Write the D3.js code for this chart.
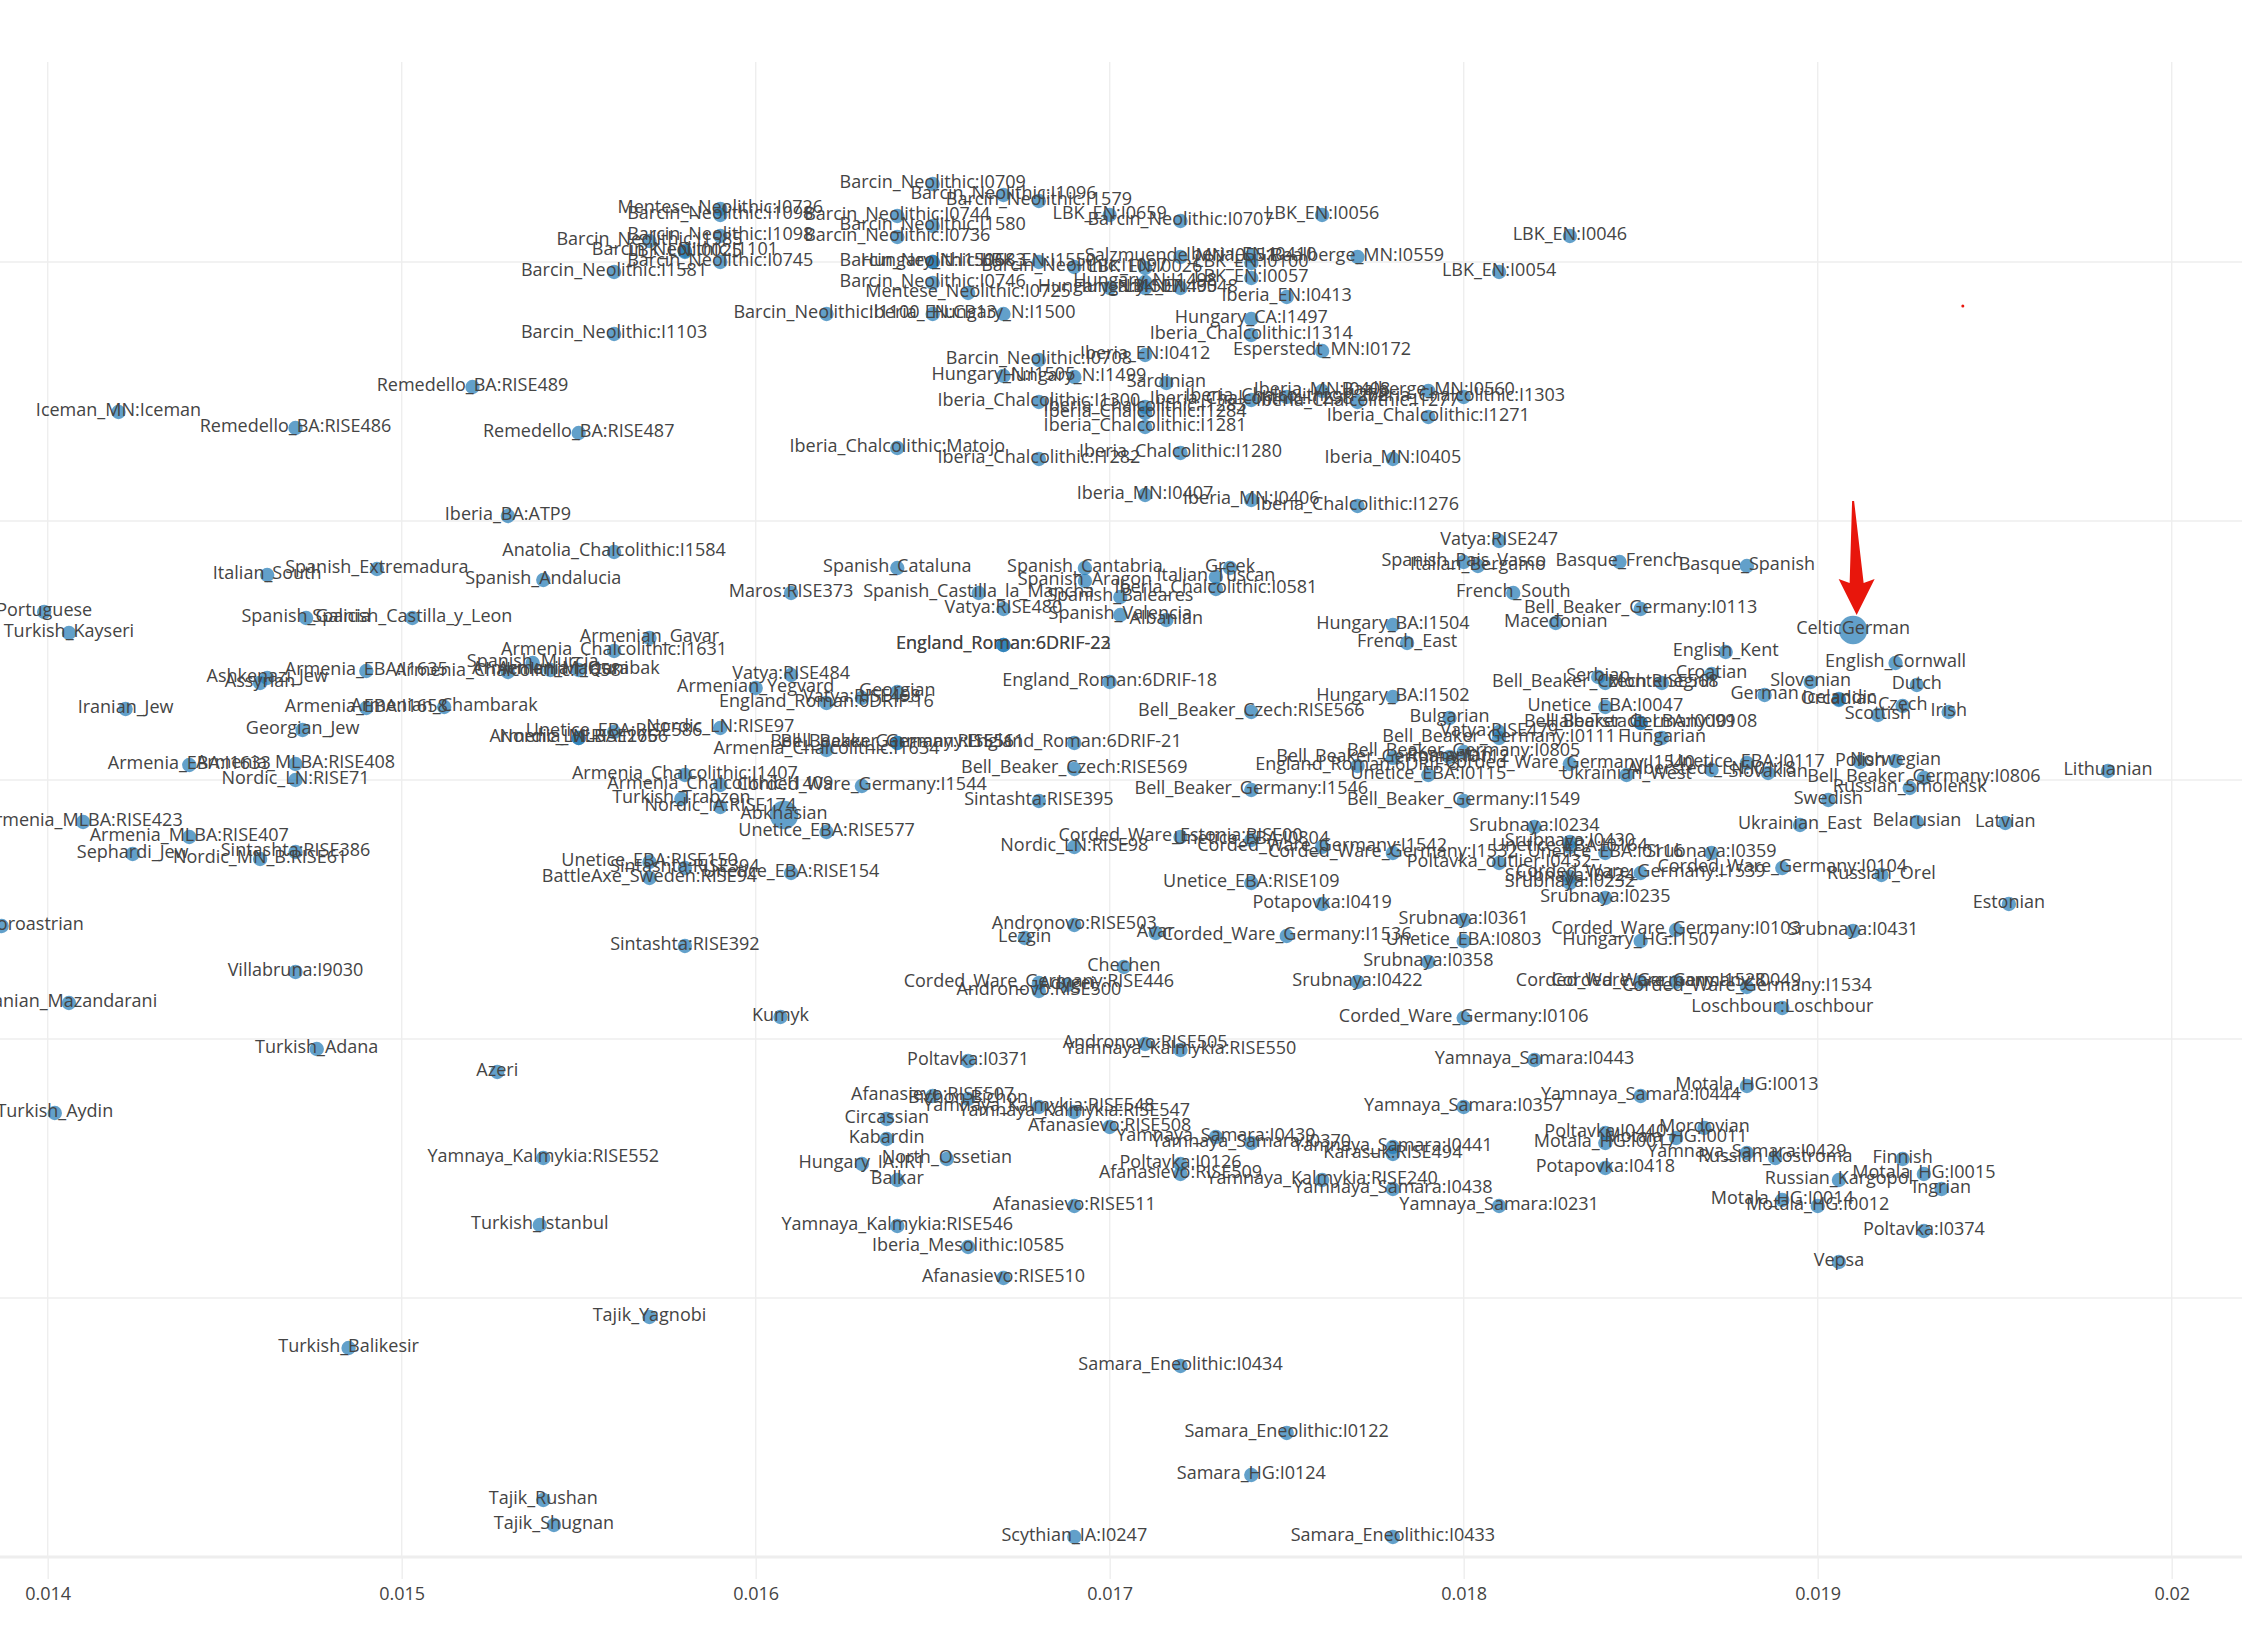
<!DOCTYPE html>
<html>
<head>
<meta charset="utf-8">
<script src="https://cdn.jsdelivr.net/npm/d3@7"></script>
<style>
  html, body { margin: 0; padding: 0; background: #fff; }
  svg { display: block; }
  text { font-family: "Open Sans", sans-serif; fill: #444; }
</style>
</head>
<body>
<div id="chart"></div>
<script>
// labels, xValues and yValues run in parallel, ten samples per line
var labels = [
  "Iceman_MN:Iceman","Remedello_BA:RISE486","Remedello_BA:RISE489","Remedello_BA:RISE487","Barcin_Neolithic:I1581","Barcin_Neolithic:I1103","Iberia_BA:ATP9","Anatolia_Chalcolithic:I1584","Italian_South","Spanish_Extremadura",
  "Spanish_Andalucia","Portuguese","Turkish_Kayseri","Spanish_Galicia","Spanish_Castilla_y_Leon","Mentese_Neolithic:I0726","Barcin_Neolithic:I1098","Barcin_Neolithic:I1098","Barcin_Neolithic:I1585","Barcin_Neolithic:I1101",
  "LBK_EN:I0025","Barcin_Neolithic:I0745","Barcin_Neolithic:I0709","Barcin_Neolithic:I1096","Barcin_Neolithic:I1579","Barcin_Neolithic:I0744","Barcin_Neolithic:I1580","Barcin_Neolithic:I0736","LBK_EN:I0659","Barcin_Neolithic:I0707",
  "LBK_EN:I0056","Barcin_Neolithic:I1583","Hungary_N:I1506","LBK_EN:I1550","Barcin_Neolithic:I1097","LBK_EN:I0026","Salzmuende_MN:I0551","Iberia_EN:I0410","LBK_EN:I0100","Baalberge_MN:I0559",
  "LBK_EN:I0057","Iberia_EN:I0413","Hungary_CA:I1497","Iberia_Chalcolithic:I1314","Esperstedt_MN:I0172","Iberia_EN:I0412","Barcin_Neolithic:I0708","Hungary_N:I1505","Hungary_N:I1499","Sardinian",
  "Iberia_Chalcolithic:I1300","Iberia_Chalcolithic:I1283","Iberia_Chalcolithic:I1284","Iberia_Chalcolithic:I1281","Iberia_Chalcolithic:Matojo","Iberia_Chalcolithic:I1282","Iberia_Chalcolithic:I1280","Iberia_MN:I0405","Iberia_MN:I0407","Iberia_MN:I0406",
  "Iberia_Chalcolithic:I1276","Iberia_Chalcolithic:I1298","Iberia_MN:I0408","Baalberge_MN:I0560","Iberia_Chalcolithic:I1303","Iberia_Chalcolithic:I1277","Iberia_Chalcolithic:I1272","Iberia_Chalcolithic:I1271","Hungary_N:I1498","Hungary_N:I1507",
  "LBK_EN:I0048","Hungary_N:I1495","Barcin_Neolithic:I0746","Mentese_Neolithic:I0725","Barcin_Neolithic:I1100","Iberia_EN:CB13","Hungary_N:I1500","LBK_EN:I0046","LBK_EN:I0054","Vatya:RISE247",
  "Basque_French","Basque_Spanish","French_South","Bell_Beaker_Germany:I0113","Macedonian","CelticGerman","English_Cornwall","Dutch","Slovenian","Icelandic",
  "Orcadian","Czech","Scottish","Irish","Polish","Norwegian","Bell_Beaker_Germany:I0806","Russian_Smolensk","Lithuanian","Swedish",
  "Ukrainian_East","Belarusian","Latvian","Corded_Ware_Germany:I0104","Russian_Orel","Slovakian","Unetice_EBA:I0117","Estonian","Hungary_BA:I1504","French_East",
  "English_Kent","Serbian","Bell_Beaker_Czech:RISE568","Montenegrin","Croatian","German","Hungary_BA:I1502","Bulgarian","Unetice_EBA:I0047","Bell_Beaker_Germany:I0108",
  "Halberstadt_LBA:I0099","Hungarian","Vatya:RISE479","Bell_Beaker_Germany:I0111","Bell_Beaker_Germany:I0805","Bell_Beaker_Germany:I0112","Romanian","England_Roman:6DRIF-3","Corded_Ware_Germany:I1540","Unetice_EBA:I0115",
  "Ukrainian_West","Alberstedt_LN:I0118","Bell_Beaker_Germany:I1549","Bell_Beaker_Germany:I1546","Srubnaya:I0234","Srubnaya:I0430","Unetice_EBA:I0164","Unetice_EBA:I0116","Srubnaya:I0359","Corded_Ware_Germany:I1532",
  "Corded_Ware_Germany:I1539","Poltavka_outlier:I0432","Srubnaya:I0424","Srubnaya:I0232","Srubnaya:I0235","Spanish_Cataluna","Spanish_Cantabria","Spanish_Aragon","Italian_Tuscan","Greek",
  "Iberia_Chalcolithic:I0581","Maros:RISE373","Spanish_Castilla_la_Mancha","Spanish_Baleares","Vatya:RISE480","Spanish_Valencia","Albanian","Spanish_Pais_Vasco","Italian_Bergamo","England_Roman:6DRIF-22",
  "England_Roman:6DRIF-23","England_Roman:6DRIF-18","Vatya:RISE484","Armenian_Yegvard","Georgian","Vatya:RISE498","England_Roman:6DRIF-16","Bell_Beaker_Czech:RISE566","England_Roman:6DRIF-21","Bell_Beaker_Germany:RISE561",
  "Bell_Beaker_Germany:I1551","Armenia_Chalcolithic:I1634","Bell_Beaker_Czech:RISE569","Corded_Ware_Germany:I1544","Sintashta:RISE395","Abkhasian","Unetice_EBA:RISE577","Unetice_EBA:RISE154","Corded_Ware_Estonia:RISE00","Nordic_LN:RISE98",
  "Unetice_EBA:I0804","Corded_Ware_Germany:I1542","Unetice_EBA:RISE109","Potapovka:I0419","Andronovo:RISE503","Lezgin","Avar","Corded_Ware_Germany:I1536","Srubnaya:I0361","Unetice_EBA:I0803",
  "Srubnaya:I0358","Chechen","Srubnaya:I0422","Corded_Ware_Germany:RISE446","Andronovo:RISE500","Adygei","Corded_Ware_Germany:I0103","Hungary_HG:I1507","Srubnaya:I0431","Corded_Ware_Germany:I1528",
  "Corded_Ware_Germany:I0049","Corded_Ware_Germany:I1534","Loschbour:Loschbour","Corded_Ware_Germany:I0106","Armenian_Gavar","Armenia_Chalcolithic:I1631","Ashkenazi_Jew","Assyrian","Armenia_EBA:I1635","Armenia_Chalcolithic:I1658",
  "Spanish_Murcia","Armenian_Martuni","Armenian_Qarabak","Iranian_Jew","Armenia_EBA:I1658","Armenian_Chambarak","Georgian_Jew","Armenia_EBA:I1633","Armenia_MLBA:RISE408","Nordic_LN:RISE71",
  "Armenia_MLBA:RISE423","Armenia_MLBA:RISE407","Sephardi_Jew","Sintashta:RISE386","Nordic_MN_B:RISE61","Iranian_Zoroastrian","Iranian_Mazandarani","Villabruna:I9030","Turkish_Adana","Nordic_LN:RISE97",
  "Unetice_EBA:RISE586","Armenia_MLBA:I1656","Nordic_LN:RISE276","Armenia_Chalcolithic:I1407","Armenia_Chalcolithic:I1409","Turkish_Trabzon","Nordic_IA:RISE174","Unetice_EBA:RISE150","Sintashta:RISE394","BattleAxe_Sweden:RISE94",
  "Sintashta:RISE392","Azeri","Turkish_Aydin","Yamnaya_Kalmykia:RISE552","Turkish_Istanbul","Tajik_Yagnobi","Turkish_Balikesir","Tajik_Rushan","Tajik_Shugnan","Kumyk",
  "Poltavka:I0371","Andronovo:RISE505","Yamnaya_Kalmykia:RISE550","Afanasievo:RISE507","Bichon:Bichon","Yamnaya_Kalmykia:RISE548","Yamnaya_Kalmykia:RISE547","Circassian","Afanasievo:RISE508","Kabardin",
  "Yamnaya_Samara:I0439","Yamnaya_Samara:I0370","Yamnaya_Samara:I0441","Karasuk:RISE494","Hungary_IA:IR1","North_Ossetian","Balkar","Poltavka:I0126","Afanasievo:RISE509","Yamnaya_Kalmykia:RISE240",
  "Yamnaya_Samara:I0438","Afanasievo:RISE511","Yamnaya_Kalmykia:RISE546","Iberia_Mesolithic:I0585","Afanasievo:RISE510","Samara_Eneolithic:I0434","Samara_Eneolithic:I0122","Samara_HG:I0124","Scythian_IA:I0247","Samara_Eneolithic:I0433",
  "Yamnaya_Samara:I0443","Motala_HG:I0013","Yamnaya_Samara:I0444","Yamnaya_Samara:I0357","Mordovian","Poltavka:I0440","Motala_HG:I0017","Motala_HG:I0011","Yamnaya_Samara:I0429","Russian_Kostroma",
  "Finnish","Potapovka:I0418","Motala_HG:I0015","Russian_Kargopol","Ingrian","Motala_HG:I0014","Motala_HG:I0012","Yamnaya_Samara:I0231","Poltavka:I0374","Vepsa"
];

var xValues = [
  0.0142,0.0147,0.0152,0.0155,0.0156,0.0156,0.0153,0.0156,0.01462,0.01493,
  0.0154,0.01399,0.01406,0.01473,0.01503,0.0159,0.0159,0.0159,0.0157,0.0158,
  0.0158,0.0159,0.0165,0.0167,0.0168,0.0164,0.0165,0.0164,0.017,0.0172,
  0.0176,0.0165,0.0165,0.0168,0.0169,0.0171,0.0172,0.0174,0.0174,0.0177,
  0.0174,0.0175,0.0174,0.0174,0.0176,0.0171,0.0168,0.0167,0.0169,0.01716,
  0.0168,0.0171,0.0171,0.0171,0.0164,0.0168,0.0172,0.0178,0.0171,0.0174,
  0.0177,0.0174,0.0176,0.0179,0.018,0.0177,0.0175,0.0179,0.0171,0.017,
  0.0172,0.0171,0.0165,0.0166,0.0162,0.0165,0.0167,0.0183,0.0181,0.0181,
  0.01844,0.0188,0.01814,0.0185,0.01826,0.0191,0.01922,0.01928,0.01898,0.01906,
  0.01906,0.01924,0.01917,0.01937,0.01912,0.01922,0.0193,0.01926,0.01982,0.01903,
  0.01895,0.01928,0.01953,0.0189,0.01918,0.01886,0.0188,0.01954,0.0178,0.01784,
  0.01874,0.01838,0.0184,0.01856,0.0187,0.01885,0.0178,0.01796,0.0184,0.0185,
  0.0185,0.01856,0.0181,0.0181,0.018,0.0178,0.01796,0.0177,0.0183,0.0179,
  0.01846,0.0187,0.018,0.0174,0.0182,0.0183,0.0183,0.0184,0.0187,0.0178,
  0.0185,0.0181,0.0183,0.0183,0.0184,0.0164,0.01693,0.01693,0.0173,0.01734,
  0.0173,0.0161,0.01663,0.01703,0.0167,0.01703,0.01716,0.018,0.01804,0.0167,
  0.0167,0.017,0.0161,0.016,0.0164,0.0163,0.0162,0.0174,0.0169,0.0164,
  0.0164,0.0162,0.0169,0.0163,0.0168,0.01608,0.0162,0.0161,0.0172,0.0169,
  0.0174,0.0176,0.0174,0.0176,0.0169,0.01676,0.01713,0.0175,0.018,0.018,
  0.0179,0.01704,0.0177,0.0168,0.0168,0.01688,0.0186,0.0185,0.0191,0.0185,
  0.0186,0.0188,0.0189,0.018,0.0157,0.0156,0.01462,0.0146,0.0149,0.0153,
  0.01537,0.01542,0.0155,0.01422,0.0149,0.01512,0.01472,0.0144,0.0147,0.0147,
  0.0141,0.0144,0.01424,0.0147,0.0146,0.01387,0.01406,0.0147,0.01476,0.0159,
  0.0156,0.0155,0.0155,0.0158,0.0159,0.01579,0.0159,0.0157,0.0158,0.0157,
  0.0158,0.01527,0.01402,0.0154,0.01539,0.0157,0.01485,0.0154,0.01543,0.01607,
  0.0166,0.0171,0.0172,0.0165,0.0166,0.0168,0.0169,0.01637,0.017,0.01637,
  0.0173,0.0174,0.0178,0.0178,0.0163,0.01654,0.0164,0.0172,0.0172,0.0176,
  0.0178,0.0169,0.0164,0.0166,0.0167,0.0172,0.0175,0.0174,0.0169,0.0178,
  0.0182,0.0188,0.0185,0.018,0.01868,0.0184,0.0184,0.0186,0.0188,0.01888,
  0.01924,0.0184,0.0193,0.01906,0.01935,0.0189,0.019,0.0181,0.0193,0.01906
];

// the y axis carries no labels in the picture, so these are readings in grid
// units where one grid step is 259
var yValues = [
  1145,1129,1170,1124,1285,1223,1041,1005,982,988,
  977,945,924,939,939,1348,1342,1321,1316,1306,
  1305,1295,1373,1362,1356,1341,1331,1320,1342,1336,
  1342,1295,1295,1295,1290,1289,1300,1301,1294,1300,
  1279,1260,1238,1222,1206,1202,1197,1181,1180,1174,
  1155,1150,1144,1130,1109,1098,1104,1098,1062,1057,
  1051,1157,1166,1166,1160,1155,1160,1140,1275,1269,
  1269,1269,1274,1264,1243,1243,1243,1321,1285,1016,
  995,991,964,948,934,927,894,872,875,858,
  857,851,842,845,795,796,779,769,786,757,
  732,735,734,689,682,784,794,653,932,914,
  905,880,874,874,883,862,860,839,850,834,
  834,819,825,819,805,799,800,791,793,782,
  782,787,756,767,730,715,710,704,704,704,
  684,694,680,674,659,989,989,976,980,989,
  968,964,964,960,948,942,937,995,991,912,
  912,875,882,869,865,859,854,845,814,814,
  814,807,788,771,756,742,725,684,720,710,
  717,710,674,653,632,619,624,621,637,616,
  595,590,575,574,566,572,627,616,626,575,
  575,570,549,539,919,906,879,874,886,885,
  894,887,887,848,849,850,827,792,793,777,
  735,720,703,705,698,631,554,585,508,829,
  825,819,819,782,772,758,750,695,689,679,
  611,485,444,399,332,240,209,57,32,540,
  496,513,507,461,458,450,445,438,430,418,
  420,414,410,403,393,398,377,393,383,377,
  368,351,331,310,279,191,124,82,20,20,
  497,471,461,450,429,424,414,419,404,399,
  398,389,383,377,368,357,351,351,326,295
];

var xTicks = [0.014, 0.015, 0.016, 0.017, 0.018, 0.019, 0.02];
var yTicks = [0, 259, 518, 777, 1036, 1295];

// these two samples have the larger marker
var highlighted = ["CelticGerman", "Abkhasian"];

// red annotation arrow and the speck next to it, in data units
var arrowTail = [0.01910, 1056];
var arrowTip = [0.01911, 942];
var redSpeck = [0.01941, 1251];

var width = 2242, height = 1636;
var top_edge = 62, bottom_edge = 1557;

var x = d3.scaleLinear().domain([0.014, 0.02]).range([47.7, 2171.7]);
var y = d3.scaleLinear().domain([0, 1495]).range([bottom_edge, top_edge]);

var samples = labels.map(function(name, i) {
    return {name: name, x: xValues[i], y: yValues[i]};
});

var chart = d3.select("#chart")
    .append("svg")
    .attr("width", width)
    .attr("height", height);

chart.append("rect")
    .attr("width", width)
    .attr("height", height)
    .attr("fill", "#fff");

// horizontal grid, the bottom one is heavier
chart.append("g").selectAll("line")
    .data(yTicks)
    .enter()
    .append("line")
    .attr("x1", 0)
    .attr("x2", width)
    .attr("y1", function(d) { return y(d); })
    .attr("y2", function(d) { return y(d); })
    .attr("stroke", "#eee")
    .attr("stroke-width", function(d) { return d === 0 ? 2.8 : 1.43; });

// vertical grid
chart.append("g").selectAll("line")
    .data(xTicks)
    .enter()
    .append("line")
    .attr("x1", function(d) { return x(d); })
    .attr("x2", function(d) { return x(d); })
    .attr("y1", top_edge)
    .attr("y2", bottom_edge)
    .attr("stroke", "#eee")
    .attr("stroke-width", 1.43);

var xAxis = d3.axisBottom(x)
    .tickValues(xTicks)
    .tickFormat(String)
    .tickSize(22)
    .tickSizeOuter(0)
    .tickPadding(8);

var axis_g = chart.append("g")
    .attr("transform", "translate(0," + bottom_edge + ")")
    .call(xAxis);
axis_g.select(".domain").remove();
axis_g.selectAll("line").attr("stroke", "#eee").attr("stroke-width", 1.43);
axis_g.selectAll("text")
    .attr("font-size", 18)
    .style("font-family", '"Open Sans", sans-serif')
    .style("fill", "#444");

// markers first, all the labels on top of them
chart.append("g").selectAll("circle")
    .data(samples)
    .enter()
    .append("circle")
    .attr("cx", function(d) { return x(d.x); })
    .attr("cy", function(d) { return y(d.y); })
    .attr("r", function(d) { return highlighted.indexOf(d.name) >= 0 ? 14.3 : 7.2; })
    .attr("fill", "rgb(31,119,180)")
    .attr("fill-opacity", 0.7);

chart.append("g").selectAll("text")
    .data(samples)
    .enter()
    .append("text")
    .attr("x", function(d) { return x(d.x); })
    .attr("y", function(d) { return y(d.y); })
    .attr("dy", "0.2em")
    .attr("text-anchor", "middle")
    .attr("font-size", 18)
    .text(function(d) { return d.name; });

// arrow outline is measured back from the tip
var tx = x(arrowTip[0]), ty = y(arrowTip[1]);
var ax = x(arrowTail[0]), ay = y(arrowTail[1]);
var arrow = [
    [ax, ay], [ax + 1, ay], [tx + 7, ty - 32], [tx + 18, ty - 36],
    [tx, ty], [tx - 18, ty - 36], [tx - 7, ty - 32], [ax - 1, ay]
];

chart.append("path")
    .attr("d", d3.line()(arrow) + "Z")
    .attr("fill", "rgb(232,22,12)");

chart.append("circle")
    .attr("cx", x(redSpeck[0]))
    .attr("cy", y(redSpeck[1]))
    .attr("r", 1.5)
    .attr("fill", "rgb(232,22,12)");
</script>
</body>
</html>
